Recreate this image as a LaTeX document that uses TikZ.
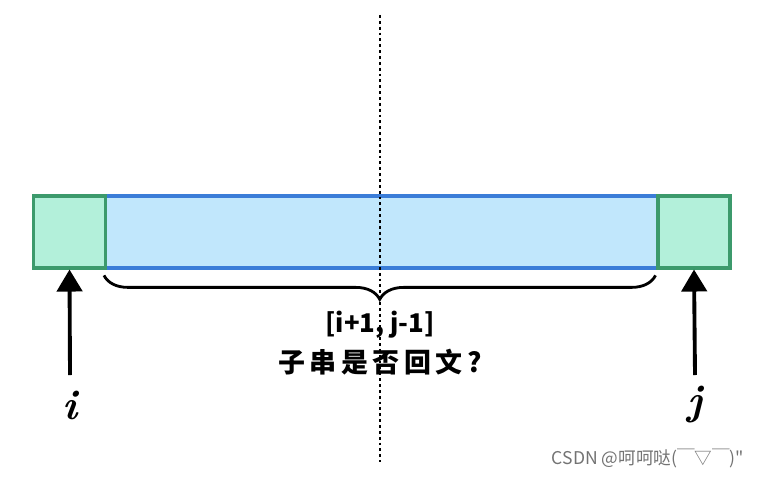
\documentclass[tikz,border=0pt]{standalone}
\usepackage{fontspec}
\newfontfamily\cjk{Noto Sans CJK SC}
\usetikzlibrary{decorations.pathreplacing,arrows.meta}
\definecolor{cellgreen}{HTML}{B3F0DA}
\definecolor{edgegreen}{HTML}{3C9A6C}
\definecolor{cellblue}{HTML}{C1E7FC}
\definecolor{edgeblue}{HTML}{3B7DD8}
\tikzset{
  cell/.style={draw=edgegreen, fill=cellgreen, line width=2.6pt, minimum width=2.16cm, minimum height=2.16cm, inner sep=0pt},
  midcell/.style={draw=edgeblue, fill=cellblue, line width=2.6pt, minimum width=16.56cm, minimum height=2.16cm, inner sep=0pt},
  pointer/.style={-{Triangle[length=0.66cm,width=0.76cm]}, line width=3.3pt},
  idx/.style={font=\fontsize{36}{36}\selectfont\bfseries\itshape},
}
\begin{document}
\begin{tikzpicture}[x=0.03cm, y=-0.03cm]
            \useasboundingbox (0,0) rectangle (767,478);
            \node[midcell] (mid) at (381.5,232) {};
            \node[cell] (ci) at (69.5,232) {};
            \node[cell] (cj) at (694,232) {};
            % middle line
            \coordinate (top) at (380,15);
            \coordinate (bot) at (380,462);
            \draw[line width=2pt, dash pattern=on 2.4pt off 2.6pt] (top) -- (bot);
            \draw[line width=2.4pt, decorate, decoration={brace, mirror, amplitude=0.72cm}]
              ([yshift=-5pt]mid.south west) -- ([xshift=-3pt, yshift=-5pt]mid.south east);
            \node[font=\cjk\bfseries\fontsize{22}{22}\selectfont] (range) at (380,325) {[i+1, j-1]};
            \node[font=\cjk\bfseries\fontsize{23}{23}\selectfont] (ask) at (380,362) {子\,串\,是\,否\,回\,文\,?};
            % pointers
            \coordinate (ti) at (70,375);
            \coordinate (tj) at (695,375);
            \draw[pointer] (ti) -- (ci.south);
            \draw[pointer] (tj) -- (cj.south);
            \node[idx] (li) at (70,405) {i};
            \node[idx] (lj) at (695,405) {j};
            \node[font=\cjk\fontsize{15}{15}\selectfont, text=black!55] (mark) at (648,458) {CSDN @呵呵哒(￣▽￣)"};
        \end{tikzpicture}
\end{document}
